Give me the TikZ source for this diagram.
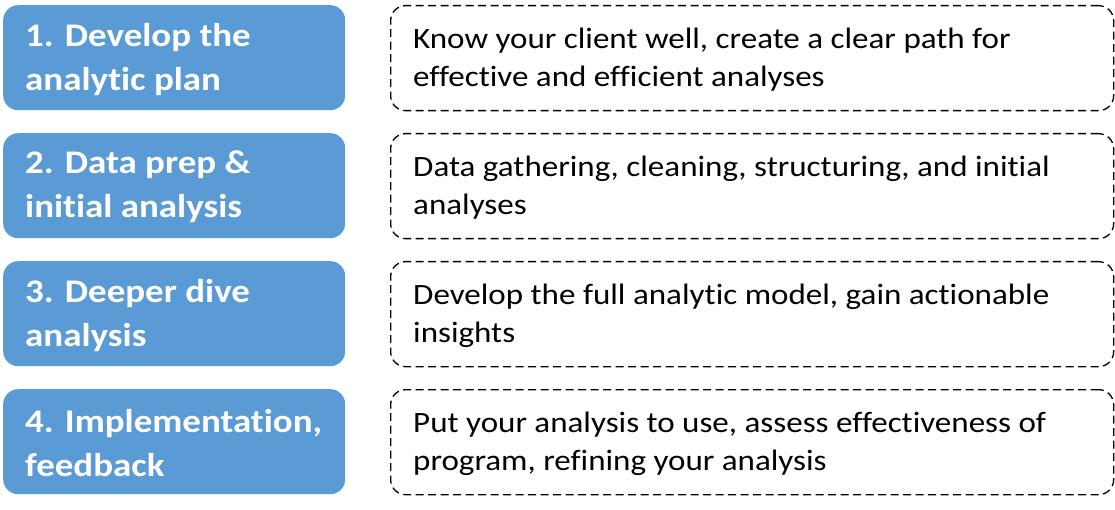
\documentclass[tikz,border=0pt]{standalone}
\usepackage{fontspec}
\setmainfont[Ligatures=NoCommon, FakeStretch=1.12]{Carlito}
\definecolor{stepblue}{HTML}{5B9BD5}
\begin{document}
\begin{tikzpicture}[x=1pt,y=-1pt,
  stepbox/.style={fill=stepblue, draw=none, rounded corners=15pt, minimum width=342pt, minimum height=105pt, anchor=north west, inner sep=0pt},
  descbox/.style={draw=black, line width=1.3pt, dash pattern=on 8pt off 4.5pt, rounded corners=15pt, minimum width=723pt, minimum height=105pt, anchor=north west, inner sep=0pt},
  steptext/.style={anchor=west, text=white, font=\fontsize{33}{44}\selectfont\bfseries, align=left, inner sep=0pt},
  desctext/.style={anchor=west, text=black, font=\fontsize{29.5}{38.5}\selectfont, align=left, inner sep=0pt}]
\useasboundingbox (0,0) rectangle (1115,510);
\foreach \i/\y in {1/5,2/133,3/261,4/389}{
  \node[stepbox] (s\i) at (3,\y) {};
  \node[descbox] (d\i) at (390,\y) {};
}
\node[steptext] (t1) at ([xshift=22pt,yshift=-1.5pt]s1.west) {1. Develop the\\analytic plan};
\node[steptext] (t2) at ([xshift=22pt,yshift=-1.5pt]s2.west) {2. Data prep \&\\initial analysis};
\node[steptext] (t3) at ([xshift=22pt,yshift=-1.5pt]s3.west) {3. Deeper dive\\analysis};
\node[steptext] (t4) at ([xshift=22pt,yshift=-1.5pt]s4.west) {4. Implementation,\\feedback};
\node[desctext] (u1) at ([xshift=23pt,yshift=-1.5pt]d1.west) {Know your client well, create a clear path for\\effective and efficient analyses};
\node[desctext] (u2) at ([xshift=23pt,yshift=-1.5pt]d2.west) {Data gathering, cleaning, structuring, and initial\\analyses};
\node[desctext] (u3) at ([xshift=23pt,yshift=-1.5pt]d3.west) {Develop the full analytic model, gain actionable\\insights};
\node[desctext] (u4) at ([xshift=23pt,yshift=-1.5pt]d4.west) {Put your analysis to use, assess effectiveness of\\program, refining your analysis};
\end{tikzpicture}
\end{document}
